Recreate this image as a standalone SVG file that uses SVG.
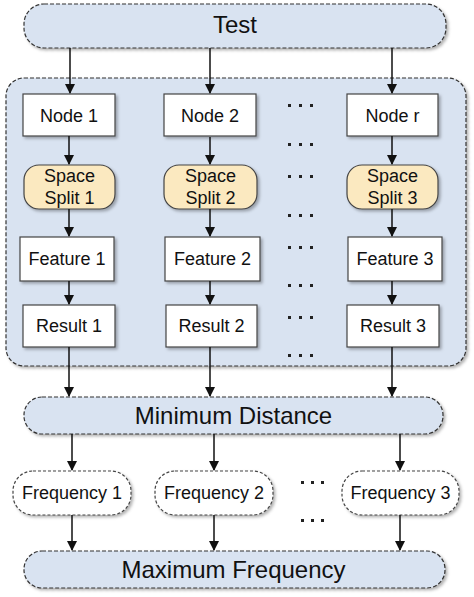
<svg xmlns="http://www.w3.org/2000/svg" width="474" height="597" viewBox="0 0 474 597">
<defs>
<filter id="sh" x="-10%" y="-10%" width="130%" height="140%">
<feDropShadow dx="2" dy="2" stdDeviation="1.5" flood-color="#000" flood-opacity="0.3"/>
</filter>
<marker id="ah" markerWidth="10" markerHeight="10" refX="9" refY="5" orient="auto" markerUnits="userSpaceOnUse">
<path d="M0,0 L10,5 L0,10 Z" fill="#111"/>
</marker>
</defs>
<style>
text{font-family:"Liberation Sans",Arial,sans-serif;fill:#111;text-anchor:middle}
.big{fill:#d9e3f1;stroke:#333;stroke-width:1.2;stroke-dasharray:4 2;filter:url(#sh)}
.box{fill:#fff;stroke:#444;stroke-width:1.2;filter:url(#sh)}
.split{fill:#fbe9c0;stroke:#444;stroke-width:1.2;filter:url(#sh)}
.freq{fill:#fff;stroke:#444;stroke-width:1.2;stroke-dasharray:3 2;filter:url(#sh)}
.t18{font-size:18px}
.t24{font-size:24px}
.c line{stroke:#111;stroke-width:1.5;marker-end:url(#ah)}
.dots rect{fill:#222}
</style>
<rect width="474" height="597" fill="#fff"/>
<g id="container"><rect class="big" x="6" y="78" width="460" height="288" rx="18"/></g>
<g id="test"><rect class="big" x="24" y="4" width="422" height="44" rx="20"/><text class="t24" x="235" y="33">Test</text></g>
<g id="node1"><rect class="box" x="23" y="94" width="92" height="42"/><text class="t18" x="69" y="122">Node 1</text></g>
<g id="node2"><rect class="box" x="164" y="94" width="92" height="42"/><text class="t18" x="210" y="122">Node 2</text></g>
<g id="noder"><rect class="box" x="347" y="94" width="91" height="42"/><text class="t18" x="392.5" y="122">Node r</text></g>
<g id="split1"><rect class="split" x="24" y="165" width="91" height="44" rx="15"/><text class="t18" x="69.5" y="182">Space</text><text class="t18" x="69.5" y="204">Split 1</text></g>
<g id="split2"><rect class="split" x="164" y="165" width="93" height="44" rx="15"/><text class="t18" x="210.5" y="182">Space</text><text class="t18" x="210.5" y="204">Split 2</text></g>
<g id="split3"><rect class="split" x="347" y="165" width="91" height="44" rx="15"/><text class="t18" x="392.5" y="182">Space</text><text class="t18" x="392.5" y="204">Split 3</text></g>
<g id="feature1"><rect class="box" x="20" y="237" width="94" height="44"/><text class="t18" x="67" y="265">Feature 1</text></g>
<g id="feature2"><rect class="box" x="165" y="237" width="95" height="44"/><text class="t18" x="212.5" y="265">Feature 2</text></g>
<g id="feature3"><rect class="box" x="348" y="237" width="94" height="44"/><text class="t18" x="395" y="265">Feature 3</text></g>
<g id="result1"><rect class="box" x="23" y="305" width="92" height="42"/><text class="t18" x="69" y="332">Result 1</text></g>
<g id="result2"><rect class="box" x="166" y="305" width="91" height="42"/><text class="t18" x="211.5" y="332">Result 2</text></g>
<g id="result3"><rect class="box" x="347" y="305" width="92" height="42"/><text class="t18" x="393" y="332">Result 3</text></g>
<g id="mindist"><rect class="big" x="24" y="397" width="419" height="37" rx="18"/><text class="t24" x="233.5" y="424">Minimum Distance</text></g>
<g id="freq1"><rect class="freq" x="13" y="471" width="118" height="44" rx="20"/><text class="t18" x="72" y="499">Frequency 1</text></g>
<g id="freq2"><rect class="freq" x="155" y="471" width="118" height="44" rx="20"/><text class="t18" x="214" y="499">Frequency 2</text></g>
<g id="freq3"><rect class="freq" x="342" y="471" width="117" height="44" rx="20"/><text class="t18" x="400.5" y="499">Frequency 3</text></g>
<g id="maxfreq"><rect class="big" x="24" y="551" width="421" height="37" rx="18"/><text class="t24" x="233.5" y="578">Maximum Frequency</text></g>
<g id="connectors" class="c">
<line x1="70" y1="48" x2="70" y2="93"/>
<line x1="210" y1="48" x2="210" y2="93"/>
<line x1="392" y1="48" x2="392" y2="93"/>
<line x1="69" y1="136" x2="69" y2="164"/>
<line x1="210" y1="137" x2="210" y2="164"/>
<line x1="392" y1="136" x2="392" y2="164"/>
<line x1="69" y1="209" x2="69" y2="236"/>
<line x1="210" y1="209" x2="210" y2="236"/>
<line x1="392" y1="209" x2="392" y2="236"/>
<line x1="69" y1="281" x2="69" y2="304"/>
<line x1="210" y1="281" x2="210" y2="304"/>
<line x1="392" y1="281" x2="392" y2="304"/>
<line x1="69" y1="347" x2="69" y2="396"/>
<line x1="210" y1="347" x2="210" y2="396"/>
<line x1="392" y1="347" x2="392" y2="396"/>
<line x1="72" y1="434" x2="72" y2="470"/>
<line x1="214" y1="434" x2="214" y2="470"/>
<line x1="400" y1="434" x2="400" y2="470"/>
<line x1="72" y1="515" x2="72" y2="550"/>
<line x1="214" y1="515" x2="214" y2="550"/>
<line x1="400" y1="515" x2="400" y2="550"/>
</g>
<g id="dots" class="dots">
<rect x="288" y="104" width="3" height="3"/><rect x="299" y="104" width="3" height="3"/><rect x="310" y="104" width="3" height="3"/>
<rect x="288" y="143" width="3" height="3"/><rect x="299" y="143" width="3" height="3"/><rect x="310" y="143" width="3" height="3"/>
<rect x="288" y="175" width="3" height="3"/><rect x="299" y="175" width="3" height="3"/><rect x="310" y="175" width="3" height="3"/>
<rect x="288" y="214" width="3" height="3"/><rect x="299" y="214" width="3" height="3"/><rect x="310" y="214" width="3" height="3"/>
<rect x="288" y="246" width="3" height="3"/><rect x="299" y="246" width="3" height="3"/><rect x="310" y="246" width="3" height="3"/>
<rect x="288" y="284" width="3" height="3"/><rect x="299" y="284" width="3" height="3"/><rect x="310" y="284" width="3" height="3"/>
<rect x="288" y="316" width="3" height="3"/><rect x="299" y="316" width="3" height="3"/><rect x="310" y="316" width="3" height="3"/>
<rect x="288" y="354" width="3" height="3"/><rect x="299" y="354" width="3" height="3"/><rect x="310" y="354" width="3" height="3"/>
<rect x="301" y="481" width="3" height="3"/><rect x="311" y="481" width="3" height="3"/><rect x="321" y="481" width="3" height="3"/>
<rect x="301" y="519" width="3" height="3"/><rect x="311" y="519" width="3" height="3"/><rect x="321" y="519" width="3" height="3"/>
</g>
</svg>
